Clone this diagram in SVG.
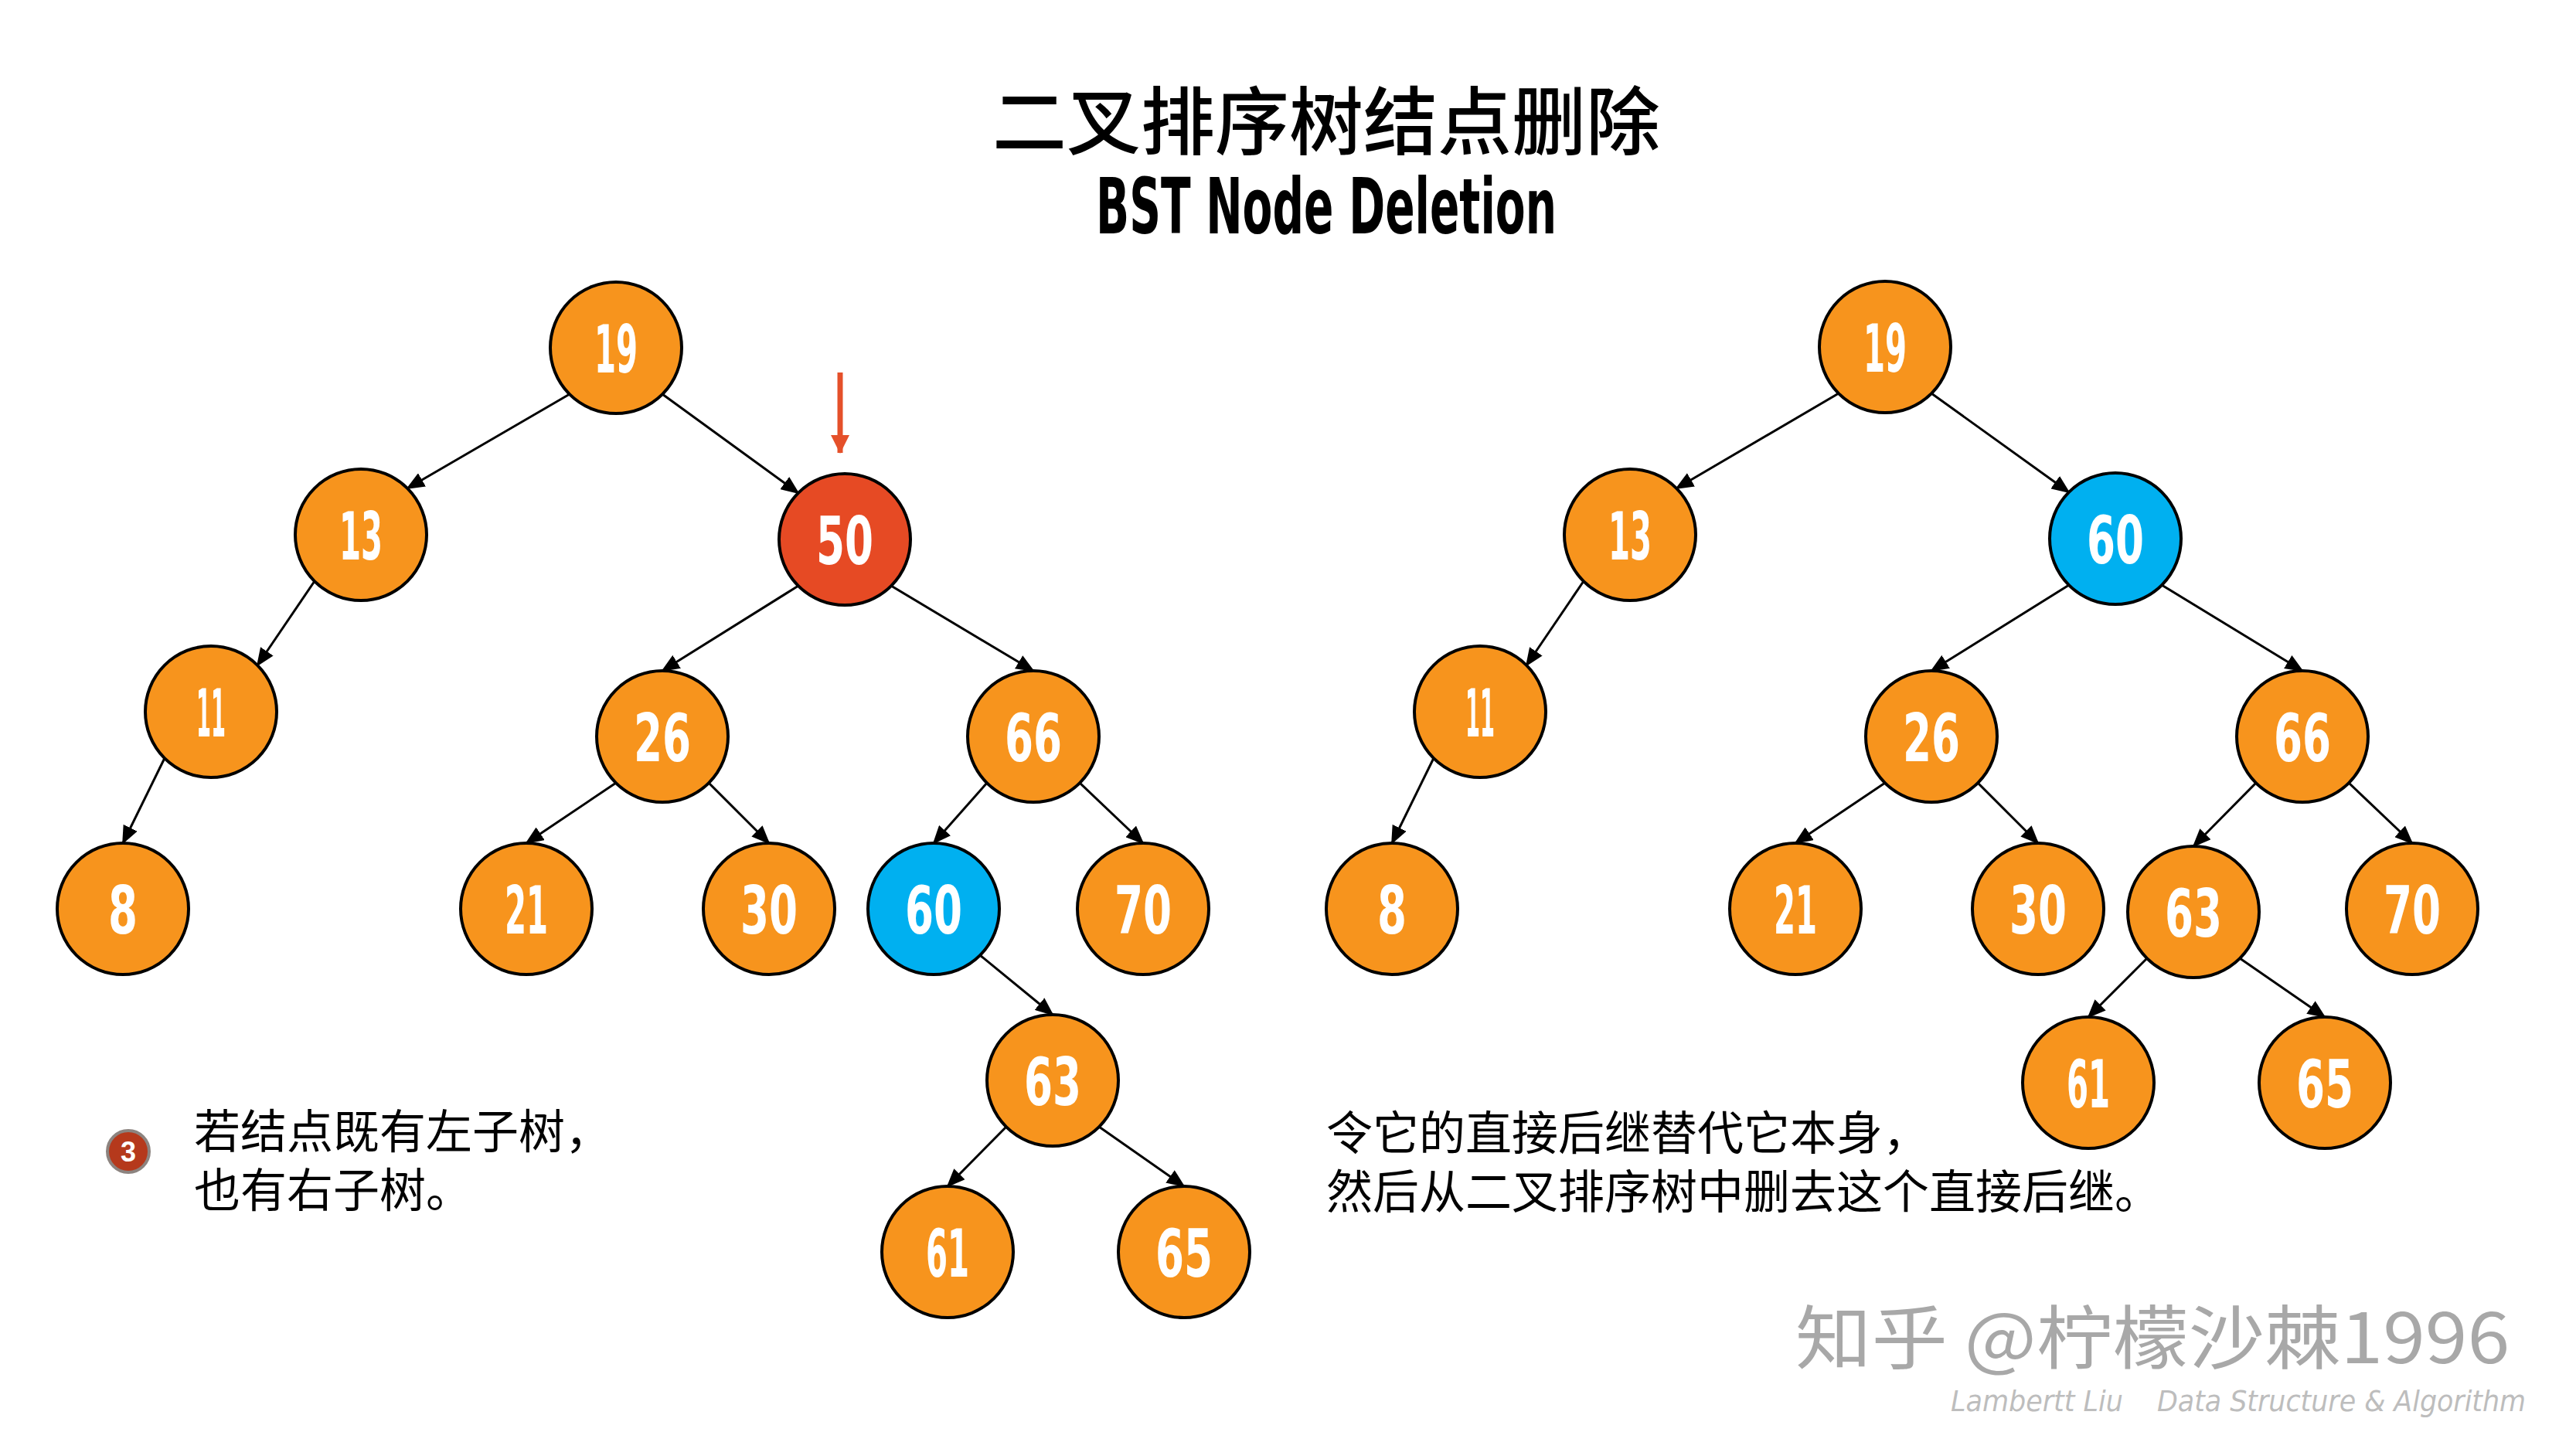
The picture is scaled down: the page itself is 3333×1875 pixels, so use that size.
<svg xmlns="http://www.w3.org/2000/svg" width="3333" height="1875" viewBox="0 0 3333 1875">
<defs>
<marker id="ah" viewBox="0 0 24 20" markerWidth="24" markerHeight="20" refX="22" refY="10" orient="auto" markerUnits="userSpaceOnUse"><path d="M0,0 L24,10 L0,20 z" fill="#000"/></marker>
<marker id="rah" viewBox="0 0 24 24" markerWidth="24" markerHeight="24" refX="23" refY="12" orient="auto" markerUnits="userSpaceOnUse"><path d="M0,0 L24,12 L0,24 z" fill="#E5502A"/></marker>
<style>
.n{stroke:#000;stroke-width:4}
.o{fill:#F7941D}
.r{fill:#E64A24}
.b{fill:#00B0F0}
.lb{font-family:"DejaVu Sans Condensed","DejaVu Sans",sans-serif;font-weight:bold;font-size:86px;fill:#fff;text-anchor:middle}
.e line{stroke:#000;stroke-width:3;marker-end:url(#ah)}
.tx{font-family:"Liberation Serif","Noto Sans CJK SC",serif;font-size:60px;fill:#000}
</style>
</defs>
<rect width="3333" height="1875" fill="#fff"/>
<g id="title">
<text x="1716" y="192" font-family="Noto Sans CJK SC, sans-serif" font-size="96" font-weight="500" text-anchor="middle">二叉排序树结点删除</text>
<text x="1716" y="302" font-family="DejaVu Sans Condensed, DejaVu Sans, sans-serif" font-size="100" font-weight="bold" text-anchor="middle" textLength="596" lengthAdjust="spacingAndGlyphs">BST Node Deletion</text>
</g>
<g id="connectors" class="e">
<line x1="737" y1="510" x2="527" y2="632"/>
<line x1="857" y1="510" x2="1033" y2="638"/>
<line x1="407" y1="752" x2="333" y2="861"/>
<line x1="213" y1="981" x2="159" y2="1091"/>
<line x1="1033" y1="758" x2="857" y2="868"/>
<line x1="1153" y1="758" x2="1337" y2="868"/>
<line x1="797" y1="1013" x2="681" y2="1091"/>
<line x1="917" y1="1013" x2="995" y2="1091"/>
<line x1="1277" y1="1013" x2="1208" y2="1091"/>
<line x1="1397" y1="1013" x2="1479" y2="1091"/>
<line x1="1268" y1="1236" x2="1362" y2="1313"/>
<line x1="1302" y1="1458" x2="1226" y2="1535"/>
<line x1="1422" y1="1458" x2="1532" y2="1535"/>
<line x1="2379" y1="509" x2="2169" y2="632"/>
<line x1="2499" y1="509" x2="2677" y2="637"/>
<line x1="2049" y1="752" x2="1975" y2="861"/>
<line x1="1855" y1="981" x2="1801" y2="1091"/>
<line x1="2677" y1="757" x2="2499" y2="868"/>
<line x1="2797" y1="757" x2="2979" y2="868"/>
<line x1="2439" y1="1013" x2="2323" y2="1091"/>
<line x1="2559" y1="1013" x2="2637" y2="1091"/>
<line x1="2919" y1="1013" x2="2838" y2="1095"/>
<line x1="3039" y1="1013" x2="3121" y2="1091"/>
<line x1="2778" y1="1240" x2="2702" y2="1316"/>
<line x1="2898" y1="1240" x2="3008" y2="1316"/>
</g>
<g id="pointer">
<line x1="1087" y1="482" x2="1087" y2="586" stroke="#E5502A" stroke-width="7" marker-end="url(#rah)"/>
</g>
<g id="L19"><circle class="n o" cx="797" cy="450" r="85"/><text class="lb" x="797" y="482" textLength="56" lengthAdjust="spacingAndGlyphs">19</text></g>
<g id="L13"><circle class="n o" cx="467" cy="692" r="85"/><text class="lb" x="467" y="724" textLength="56" lengthAdjust="spacingAndGlyphs">13</text></g>
<g id="L50"><circle class="n r" cx="1093" cy="698" r="85"/><text class="lb" x="1093" y="730" textLength="74" lengthAdjust="spacingAndGlyphs">50</text></g>
<g id="L11"><circle class="n o" cx="273" cy="921" r="85"/><text class="lb" x="273" y="953" textLength="38" lengthAdjust="spacingAndGlyphs">11</text></g>
<g id="L26"><circle class="n o" cx="857" cy="953" r="85"/><text class="lb" x="857" y="985" textLength="74" lengthAdjust="spacingAndGlyphs">26</text></g>
<g id="L66"><circle class="n o" cx="1337" cy="953" r="85"/><text class="lb" x="1337" y="985" textLength="74" lengthAdjust="spacingAndGlyphs">66</text></g>
<g id="L8"><circle class="n o" cx="159" cy="1176" r="85"/><text class="lb" x="159" y="1208" textLength="38" lengthAdjust="spacingAndGlyphs">8</text></g>
<g id="L21"><circle class="n o" cx="681" cy="1176" r="85"/><text class="lb" x="681" y="1208" textLength="56" lengthAdjust="spacingAndGlyphs">21</text></g>
<g id="L30"><circle class="n o" cx="995" cy="1176" r="85"/><text class="lb" x="995" y="1208" textLength="74" lengthAdjust="spacingAndGlyphs">30</text></g>
<g id="L60"><circle class="n b" cx="1208" cy="1176" r="85"/><text class="lb" x="1208" y="1208" textLength="74" lengthAdjust="spacingAndGlyphs">60</text></g>
<g id="L70"><circle class="n o" cx="1479" cy="1176" r="85"/><text class="lb" x="1479" y="1208" textLength="74" lengthAdjust="spacingAndGlyphs">70</text></g>
<g id="L63"><circle class="n o" cx="1362" cy="1398" r="85"/><text class="lb" x="1362" y="1430" textLength="74" lengthAdjust="spacingAndGlyphs">63</text></g>
<g id="L61"><circle class="n o" cx="1226" cy="1620" r="85"/><text class="lb" x="1226" y="1652" textLength="56" lengthAdjust="spacingAndGlyphs">61</text></g>
<g id="L65"><circle class="n o" cx="1532" cy="1620" r="85"/><text class="lb" x="1532" y="1652" textLength="74" lengthAdjust="spacingAndGlyphs">65</text></g>
<g id="R19"><circle class="n o" cx="2439" cy="449" r="85"/><text class="lb" x="2439" y="481" textLength="56" lengthAdjust="spacingAndGlyphs">19</text></g>
<g id="R13"><circle class="n o" cx="2109" cy="692" r="85"/><text class="lb" x="2109" y="724" textLength="56" lengthAdjust="spacingAndGlyphs">13</text></g>
<g id="R60"><circle class="n b" cx="2737" cy="697" r="85"/><text class="lb" x="2737" y="729" textLength="74" lengthAdjust="spacingAndGlyphs">60</text></g>
<g id="R11"><circle class="n o" cx="1915" cy="921" r="85"/><text class="lb" x="1915" y="953" textLength="38" lengthAdjust="spacingAndGlyphs">11</text></g>
<g id="R26"><circle class="n o" cx="2499" cy="953" r="85"/><text class="lb" x="2499" y="985" textLength="74" lengthAdjust="spacingAndGlyphs">26</text></g>
<g id="R66"><circle class="n o" cx="2979" cy="953" r="85"/><text class="lb" x="2979" y="985" textLength="74" lengthAdjust="spacingAndGlyphs">66</text></g>
<g id="R8"><circle class="n o" cx="1801" cy="1176" r="85"/><text class="lb" x="1801" y="1208" textLength="38" lengthAdjust="spacingAndGlyphs">8</text></g>
<g id="R21"><circle class="n o" cx="2323" cy="1176" r="85"/><text class="lb" x="2323" y="1208" textLength="56" lengthAdjust="spacingAndGlyphs">21</text></g>
<g id="R30"><circle class="n o" cx="2637" cy="1176" r="85"/><text class="lb" x="2637" y="1208" textLength="74" lengthAdjust="spacingAndGlyphs">30</text></g>
<g id="R63"><circle class="n o" cx="2838" cy="1180" r="85"/><text class="lb" x="2838" y="1212" textLength="74" lengthAdjust="spacingAndGlyphs">63</text></g>
<g id="R70"><circle class="n o" cx="3121" cy="1176" r="85"/><text class="lb" x="3121" y="1208" textLength="74" lengthAdjust="spacingAndGlyphs">70</text></g>
<g id="R61"><circle class="n o" cx="2702" cy="1401" r="85"/><text class="lb" x="2702" y="1433" textLength="56" lengthAdjust="spacingAndGlyphs">61</text></g>
<g id="R65"><circle class="n o" cx="3008" cy="1401" r="85"/><text class="lb" x="3008" y="1433" textLength="74" lengthAdjust="spacingAndGlyphs">65</text></g>
<g id="badge">
<circle cx="166" cy="1490" r="27" fill="#B5391C" stroke="#8C8480" stroke-width="4"/>
<text x="166" y="1503" font-family="Liberation Sans, Arial, sans-serif" font-size="36" font-weight="bold" fill="#fff" text-anchor="middle">3</text>
</g>
<g id="caption-left">
<text class="tx" x="251" y="1486">若结点既有左子树，</text>
<text class="tx" x="251" y="1562">也有右子树。</text>
</g>
<g id="caption-right">
<text class="tx" x="1716" y="1488">令它的直接后继替代它本身，</text>
<text class="tx" x="1716" y="1564">然后从二叉排序树中删去这个直接后继。</text>
</g>
<g id="watermark">
<text x="2323" y="1764" font-family="Noto Sans CJK SC, sans-serif" font-size="90" fill="#A8A8A8" textLength="924" lengthAdjust="spacingAndGlyphs">知乎 @柠檬沙棘1996</text>
<text y="1826" font-family="DejaVu Sans Condensed, DejaVu Sans, sans-serif" font-size="38" font-style="italic" font-weight="300" fill="#BDBDBD"><tspan x="2524" textLength="223" lengthAdjust="spacingAndGlyphs">Lambertt Liu</tspan><tspan x="2791" textLength="477" lengthAdjust="spacingAndGlyphs">Data Structure &amp; Algorithm</tspan></text>
</g>
</svg>
